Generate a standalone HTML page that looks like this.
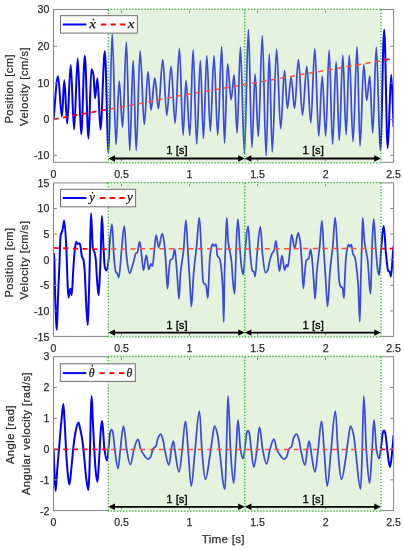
<!DOCTYPE html>
<html><head><meta charset="utf-8"><title>Figure</title>
<style>html,body{margin:0;padding:0;background:#fff}svg{display:block}</style></head>
<body>
<svg width="404" height="550" viewBox="0 0 404 550">
<rect width="404" height="550" fill="#fff"/>
<g font-family="'Liberation Sans', Arial, sans-serif" fill="#2e2e2e" stroke="#2e2e2e" stroke-width="0.25">
<clipPath id="ci0"><rect x="108.4" y="9.5" width="272.5" height="152.8"/></clipPath>
<clipPath id="co0"><rect x="53.5" y="9.5" width="54.9" height="152.8"/><rect x="380.9" y="9.5" width="12.7" height="152.8"/></clipPath>
<g fill="none" stroke-linejoin="round">
<defs><path id="w0" d="M53.6 118.6C55.1 104.5 56.4 76.3 58 76.3C59.4 76.3 60.5 116.5 61.9 116.5C62.8 116.5 63.4 80.2 64.3 80.2C65.3 80.2 66.2 123.6 67.2 123.6C68.5 123.6 69.4 64.9 70.7 64.9C71.9 64.9 72.9 129.5 74.1 129.5C75.4 129.5 76.4 58.5 77.7 58.5C79 58.5 79.9 134.3 81.2 134.3C82.5 134.3 83.5 55.8 84.8 55.8C86.1 55.8 87.2 138.4 88.5 138.4C89.5 138.4 90.4 69.3 91.4 69.3C92 69.3 92.5 70.9 93 72.8C93.2 73.5 93.4 74.9 93.6 76.5C94.1 80.6 94.6 98.3 95.1 98.3C95.9 98.3 96.6 78.2 97.4 78.2C98.5 78.2 99.4 129.5 100.5 129.5C102 129.5 103.3 51.3 104.8 51.3C106.2 51.3 107.2 153 108.6 153C109.9 153 110.9 34.1 112.2 34.1C113.6 34.1 114.6 144.6 116 144.6C117.2 144.6 118 81.2 119.2 81.2C120.4 81.2 121.4 127 122.6 127C124 127 125 42 126.4 42C127.6 42 128.5 150.5 129.7 150.5C131 150.5 131.9 60.5 133.2 60.5C134.3 60.5 135.1 150.5 136.2 150.5C137.6 150.5 138.7 50.8 140.1 50.8C141.6 50.8 142.8 124.4 144.3 124.4C145.6 124.4 146.7 71.5 148 71.5C149.1 71.5 149.9 110 151 110C152.4 110 153.4 78.2 154.8 78.2C156.1 78.2 157.1 108.6 158.4 108.6C160 108.6 161.2 59.7 162.8 59.7C164.2 59.7 165.4 115.2 166.8 115.2C168.3 115.2 169.6 66.3 171.1 66.3C172.5 66.3 173.7 123 175.1 123C176.6 123 177.9 48.3 179.4 48.3C180.7 48.3 181.8 135 183.1 135C184.1 135 185 80.4 186 80.4C187.4 80.4 188.4 135.5 189.8 135.5C191 135.5 191.9 49.9 193.1 49.9C194.4 49.9 195.4 143.9 196.7 143.9C198 143.9 199 60.5 200.3 60.5C201.4 60.5 202.3 138.4 203.4 138.4C204.6 138.4 205.6 55.7 206.8 55.7C208.1 55.7 209 131 210.3 131C211.6 131 212.7 55.7 214 55.7C215.3 55.7 216.4 135 217.7 135C219.1 135 220.3 46.5 221.7 46.5C222.7 46.5 223.5 143.2 224.5 143.2C225.6 143.2 226.5 63.8 227.6 63.8C228.9 63.8 229.8 99.7 231.1 99.7C232.2 99.7 233 74.8 234.1 74.8C235.2 74.8 236 133 237.1 133C238.3 133 239.2 47.2 240.4 47.2C241.8 47.2 243 153.4 244.4 153.4C245.8 153.4 247 29.7 248.4 29.7C249.7 29.7 250.6 147.5 251.9 147.5C253.1 147.5 253.9 74.2 255.1 74.2C256.3 74.2 257.1 136.5 258.3 136.5C259.7 136.5 260.9 35.5 262.3 35.5C263.7 35.5 264.7 155.7 266.1 155.7C267.3 155.7 268.1 53.9 269.3 53.9C270.3 53.9 271.2 151.9 272.2 151.9C273.8 151.9 275 49.2 276.6 49.2C278.1 49.2 279.2 128.6 280.7 128.6C282.1 128.6 283.1 70.5 284.5 70.5C285.5 70.5 286.4 108.3 287.4 108.3C288.7 108.3 289.8 77.7 291.1 77.7C292.4 77.7 293.3 108.3 294.6 108.3C296 108.3 297 59.7 298.4 59.7C299.9 59.7 301 115 302.5 115C304 115 305.3 66.4 306.8 66.4C308.2 66.4 309.4 122.8 310.8 122.8C312.2 122.8 313.4 48.6 314.8 48.6C316.2 48.6 317.3 135.9 318.7 135.9C320 135.9 320.9 76.3 322.2 76.3C323.5 76.3 324.4 135.9 325.7 135.9C326.9 135.9 327.9 50.1 329.1 50.1C330.4 50.1 331.3 144.1 332.6 144.1C333.9 144.1 334.8 61.7 336.1 61.7C337.3 61.7 338.1 140.3 339.3 140.3C340.6 140.3 341.5 55 342.8 55C344 55 344.9 134.5 346.1 134.5C347.3 134.5 348.1 55 349.3 55C350.6 55 351.7 141.7 353 141.7C354.5 141.7 355.6 46.6 357.1 46.6C358.1 46.6 359 146 360 146C361.4 146 362.4 64.6 363.8 64.6C364.8 64.6 365.7 100.4 366.7 100.4C367.8 100.4 368.7 76 369.8 76C370.8 76 371.7 133 372.7 133C374 133 375 47.2 376.3 47.2C377.7 47.2 378.9 150.5 380.3 150.5C381.7 150.5 382.8 29.7 384.2 29.7C385.5 29.7 386.4 148 387.7 148C389 148 389.9 74.8 391.2 74.8C392.1 74.8 392.8 109.6 393.6 127"/></defs>
<use href="#w0" clip-path="url(#co0)" stroke="#0000ff" stroke-width="2"/>
<use href="#w0" clip-path="url(#ci0)" stroke="#0000ff" stroke-width="1.75"/>
<path clip-path="url(#co0)" d="M53.6 119.4L108.3 109.2L120 107.3L179.4 95.8L238.8 85.6L313.5 72.5L383.5 60.3L393.6 58.2" stroke="#ff0000" stroke-width="1.8" stroke-dasharray="5.2 4.4"/>
</g>
<rect x="109.7" y="10.7" width="269.9" height="150.8" fill="rgb(176,220,159)" fill-opacity="0.34" stroke="none"/>
<g fill="none" stroke="#868686" stroke-width="1">
<rect x="53.5" y="9.5" width="340.1" height="152.8"/>
<path d="M121.5 162.3v-3.4M121.5 9.5v3.4M189.5 162.3v-3.4M189.5 9.5v3.4M257.6 162.3v-3.4M257.6 9.5v3.4M325.6 162.3v-3.4M325.6 9.5v3.4M53.5 46.3h3.4M393.6 46.3h-3.4M53.5 83h3.4M393.6 83h-3.4M53.5 119.4h3.4M393.6 119.4h-3.4M53.5 155.3h3.4M393.6 155.3h-3.4"/>
</g>
<path clip-path="url(#ci0)" d="M53.6 119.4L108.3 109.2L120 107.3L179.4 95.8L238.8 85.6L313.5 72.5L383.5 60.3L393.6 58.2" fill="none" stroke="#fb5038" stroke-width="1.5" stroke-dasharray="5.2 4.4"/>
<g fill="none" stroke="#eaf4e5" stroke-width="2.2">
<path d="M108.4 9.4H380.9M108.4 162.4H380.9"/>
</g>
<g fill="none" stroke="#45b845" stroke-width="1.3" stroke-dasharray="1.45 1.6">
<path d="M107.6 9.3H381.7M107.6 162.8H381.7"/>
<path stroke-width="1.4" d="M108.4 9.5V162.3M244.8 9.5V162.3M380.9 9.5V162.3"/>
</g>
<g font-size="10.6">
<text x="49.4" y="13.1" text-anchor="end">30</text>
<text x="49.4" y="50.1" text-anchor="end">20</text>
<text x="49.4" y="86.8" text-anchor="end">10</text>
<text x="49.4" y="123.2" text-anchor="end">0</text>
<text x="49.4" y="159.1" text-anchor="end">-10</text>
<text x="53.5" y="177.7" text-anchor="middle">0</text>
<text x="121.5" y="177.7" text-anchor="middle">0.5</text>
<text x="189.5" y="177.7" text-anchor="middle">1</text>
<text x="257.6" y="177.7" text-anchor="middle">1.5</text>
<text x="325.6" y="177.7" text-anchor="middle">2</text>
<text x="393.6" y="177.7" text-anchor="middle">2.5</text>
</g>
<text font-size="11.2" textLength="69.1" lengthAdjust="spacing" transform="translate(12.9 123.5) rotate(-90)">Position [cm]</text>
<text font-size="11.2" textLength="78.5" lengthAdjust="spacing" transform="translate(27.9 125.9) rotate(-90)">Velocity [cm/s]</text>
<g stroke="#000" stroke-width="1.8" fill="#000">
<path d="M112.4 158.5H240.8" fill="none"/>
<path stroke="none" d="M108.4 158.5l6.6 -3.2v6.4z"/>
<path stroke="none" d="M244.8 158.5l-6.6 -3.2v6.4z"/>
<path d="M248.8 158.5H376.9" fill="none"/>
<path stroke="none" d="M244.8 158.5l6.6 -3.2v6.4z"/>
<path stroke="none" d="M380.9 158.5l-6.6 -3.2v6.4z"/>
</g>
<text font-size="11.3" fill="#000" stroke="#000" stroke-width="0.3" text-anchor="middle" x="176.9" y="154.4">1 [s]</text>
<text font-size="11.3" fill="#000" stroke="#000" stroke-width="0.3" text-anchor="middle" x="313.2" y="154.4">1 [s]</text>
<rect x="60.5" y="15.7" width="76.9" height="17.4" fill="#fff" stroke="#6e6e6e" stroke-width="1"/>
<path d="M62.8 24.5H86.3" stroke="#0000ff" stroke-width="2" fill="none"/>
<path d="M100.9 24.5h24.6" stroke="#ff0000" stroke-width="1.8" stroke-dasharray="5.3 4.35" fill="none"/>
<g font-family="'Liberation Serif', 'DejaVu Serif', serif" font-style="italic" font-size="13" fill="#1a1a1a" stroke="#1a1a1a" stroke-width="0.25">
<text x="89.2" y="27.8" textLength="6.8" lengthAdjust="spacingAndGlyphs">x</text>
<text x="91.4" y="25.6" font-style="normal" font-size="11" stroke-width="0.5">˙</text>
<text x="127.8" y="27.8" textLength="6.8" lengthAdjust="spacingAndGlyphs">x</text>
</g>
<clipPath id="ci1"><rect x="108.4" y="182.9" width="272.5" height="153.5"/></clipPath>
<clipPath id="co1"><rect x="53.5" y="182.9" width="54.9" height="153.5"/><rect x="380.9" y="182.9" width="12.7" height="153.5"/></clipPath>
<g fill="none" stroke-linejoin="round">
<defs><path id="w1" d="M53.6 259C53.8 257.2 54 253.6 54.3 253.6C54.5 253.6 54.7 279.1 54.9 287C55.3 301.5 55.6 312.4 56 319C56.3 323.8 56.5 329.8 56.8 329.8C57.2 329.8 57.5 311.7 57.8 303C58 296.9 58.3 290.4 58.5 285C58.8 278.8 59 274 59.3 268C59.7 258.2 60.2 238.5 60.6 236C61.2 232.3 61.9 232.6 62.5 230C63.1 227.7 63.6 220.4 64.2 220.4C65 220.4 65.7 235 66.4 249C66.7 255.4 67.1 271.8 67.4 279C67.8 287 68.1 297.6 68.5 297.6C69.2 297.6 69.7 288.8 70.4 288.8C70.9 288.8 71.2 294.9 71.7 294.9C72.3 294.9 72.7 278.3 73.2 271C73.7 263.7 74.2 255.2 74.7 251C75.2 246.8 75.6 241.7 76.2 241.7C76.8 241.7 77.2 244.1 77.8 244.1C78.6 244.1 79 243.3 79.8 243.3C80.6 243.3 81.2 254.1 81.9 256.4C82.4 258.1 83 258 83.5 260C83.9 261.5 84.3 265.8 84.7 271C85.1 276.6 85.6 292.5 86 300C86.6 310.4 87.1 325 87.8 325C88.2 325 88.5 306.7 88.9 295C89.2 286.5 89.4 275.3 89.7 265C90.1 248.3 90.5 213.3 91 213.3C91.7 213.3 92.3 246.7 92.9 249C93.4 250.9 94 250.6 94.5 252.3C94.9 253.6 95.4 256.2 95.8 260C96.2 263.5 96.6 274 97 279C97.5 285.7 98 295.2 98.6 295.2C99.1 295.2 99.5 282.5 99.9 274C100.2 268.8 100.4 262.2 100.7 255C101.1 244.1 101.4 216 101.9 216C102.5 216 102.9 236.3 103.4 245C103.9 253.1 104.3 265.2 104.8 267C105.3 269.1 105.8 270.5 106.4 270.5C107.2 270.5 107.9 265.8 108.6 260.5C109.1 257.1 109.5 244.9 110 240C110.7 233 111.2 224 112 224C112.8 224 113.3 249.7 114 257.2C114.5 263.2 115.1 269.7 115.6 271.1C116.2 272.5 116.7 272.5 117.3 273.6C117.8 274.6 118.2 277.6 118.8 277.6C119.8 277.6 120.5 260.4 121.4 252.3C122.4 243.2 123.2 226.1 124.3 226.1C125.2 226.1 125.8 251.2 126.6 257.2C127.6 265 128.5 273.3 129.6 273.3C130.5 273.3 131.2 269.4 132 267C132.7 264.9 133.4 262.3 134.1 259.7C134.6 257.9 135.1 254.7 135.6 253.9C136.2 253 136.7 253.1 137.3 252.3C138.1 251.1 138.8 241.7 139.7 241.7C140.5 241.7 141.1 251.9 141.8 257.2C142.4 261.5 142.9 270.3 143.5 270.3C144.6 270.3 145.2 255.2 146.3 255.2C147.3 255.2 147.9 269.5 148.9 269.5C149.6 269.5 150.1 263.8 150.8 263.8C151.4 263.8 151.9 266.2 152.5 266.2C153.1 266.2 153.6 256.9 154.1 252.3C154.8 246.5 155.3 235.1 156.1 235.1C157.1 235.1 157.7 247.4 158.7 247.4C160 247.4 160.9 233.5 162.2 233.5C163 233.5 163.5 238 164.2 242.5C164.7 246.1 165.3 254.1 165.8 262C166.1 266.9 166.5 275.6 166.8 280C167.1 283.5 167.3 288.5 167.6 288.5C168 288.5 168.3 278.7 168.6 275C169.1 269.1 169.7 261.5 170.2 260.5C171.1 258.9 171.9 259.4 172.8 258C173.4 257 174 249 174.7 249C175.2 249 175.6 256 176 260.5C176.5 265.3 176.9 272.1 177.4 278C177.9 284.8 178.4 298.8 179 298.8C179.6 298.8 180 279.1 180.5 273.6C181.6 261.8 182.6 259.5 183.7 249C184.4 241.8 185.1 220.4 185.9 220.4C186.6 220.4 187.2 239.1 187.8 249C188.5 260.5 189.3 273.4 190 285C190.5 292.4 190.9 306.5 191.4 306.5C192.2 306.5 192.9 282.1 193.6 273.6C194.7 261.3 195.7 254.6 196.8 244.1C197.6 235.9 198.4 217.9 199.3 217.9C200.1 217.9 200.6 237.8 201.3 249C201.9 258.5 202.4 276.3 203 280C203.3 281.8 203.5 283.2 203.8 283.5C204.5 284.4 205.2 284 205.9 284.8C206.6 285.6 207.1 298.1 207.9 298.1C208.2 298.1 208.5 286.1 208.8 280C209.2 272.5 209.5 260.9 209.9 257.2C210.5 251.6 211 248.4 211.6 246.6C212 245.4 212.3 244.1 212.7 244.1C213.3 244.1 213.8 246.1 214.4 246.1C215 246.1 215.4 244.1 216 244.1C216.5 244.1 216.9 254.4 217.4 255.6C218.2 257.6 218.9 257 219.7 258.9C220.2 260.2 220.8 264.1 221.3 268.7C221.8 273 222.3 279.9 222.8 290C223.1 296.7 223.4 322 223.8 322C224.1 322 224.3 284.6 224.5 275C224.9 260 225.2 253 225.6 244C226 234.2 226.3 217.9 226.8 217.9C227.3 217.9 227.7 236.8 228.1 240.8C228.6 245.8 229.2 247.5 229.7 250.7C230.3 254.1 230.8 255.9 231.4 260.5C231.9 264.8 232.5 277 233 282C233.5 287 234 293.6 234.6 293.6C234.9 293.6 235.1 282.4 235.4 275C235.7 266.7 236 250.8 236.3 244.1C236.8 232.3 237.3 219.2 237.9 219.2C238.7 219.2 239.2 240.9 239.9 249C240.6 257.5 241.3 267.1 242 270.3C242.4 272.3 242.8 274.4 243.3 274.4C244.1 274.4 244.6 255.7 245.3 249C246.2 239.6 247 226.1 248.1 226.1C248.9 226.1 249.5 246.9 250.2 253.9C250.9 260.9 251.6 269.7 252.3 270.6C252.9 271.4 253.4 271.1 254 271.9C254.4 272.4 254.7 276.5 255.1 276.5C255.9 276.5 256.5 259 257.2 252.3C258.3 242.1 259.2 226.9 260.4 226.9C261.2 226.9 261.8 247.9 262.5 253.9C263.5 262.5 264.4 272.6 265.5 272.6C266.3 272.6 267 271.6 267.7 270.3C268.4 269.1 269.1 263.1 269.8 260.5C270.7 257.3 271.5 254.2 272.4 252.7C272.9 251.8 273.5 251.7 274 250.7C274.7 249.4 275.2 240.8 276 240.8C276.7 240.8 277.2 252 277.8 257.2C278.4 262.1 278.9 271.1 279.5 271.1C280.4 271.1 281.1 255.6 282 255.6C283 255.6 283.7 270.3 284.7 270.3C285.3 270.3 285.8 264.6 286.4 264.6C286.9 264.6 287.2 266.7 287.7 266.7C288.3 266.7 288.8 261.1 289.3 257.2C290.1 251.6 290.7 234.6 291.6 234.6C292.7 234.6 293.5 248.2 294.6 248.2C296 248.2 296.8 233 298.2 233C299 233 299.6 237.7 300.3 242.5C300.8 246.2 301.4 255.7 301.9 263.8C302.4 270.9 302.8 288.5 303.3 288.5C303.8 288.5 304.2 279.1 304.6 275C305.2 269.7 305.7 261.5 306.3 260.5C307.2 258.9 308.1 259.5 309 258C309.5 257.1 310 249 310.6 249C311.2 249 311.7 255.5 312.2 260.5C312.7 265.1 313.2 273.4 313.7 280C314.2 286.2 314.6 298.8 315.1 298.8C315.7 298.8 316.2 280 316.7 273.6C317.8 260.8 318.8 255.2 319.9 244.1C320.6 237.2 321.1 220.9 321.9 220.9C322.6 220.9 323.1 239.6 323.7 249C324.5 261 325.2 274 326 285C326.5 292.7 327 306.5 327.6 306.5C328.4 306.5 329.1 282.1 329.8 273.6C330.9 261.3 331.9 255.3 333 244.1C333.7 236.4 334.4 217.6 335.2 217.6C336 217.6 336.7 237.5 337.4 249C338 258.9 338.7 278.3 339.3 282C339.7 284.3 340.1 285.8 340.5 286.4C341.2 287.3 341.8 287 342.5 288C343 288.7 343.4 298.1 344 298.1C344.3 298.1 344.5 285.5 344.8 280C345.2 271.7 345.6 261.1 346 257.2C346.6 251.7 347.1 248.5 347.7 246.6C348 245.7 348.2 244.6 348.5 244.6C349.1 244.6 349.4 246.6 350 246.6C350.5 246.6 350.8 244.6 351.3 244.6C351.9 244.6 352.4 252.5 352.9 253.9C353.6 255.6 354.2 255.4 354.9 257.2C355.3 258.4 355.8 262.1 356.2 265.4C356.9 270.4 357.5 275.7 358.2 285C358.7 292.4 359.2 321.8 359.8 321.8C360.2 321.8 360.5 292.2 360.8 280C361.2 266.5 361.5 256.1 361.9 244.1C362.2 235.4 362.4 217.9 362.7 217.9C363.3 217.9 363.8 236 364.4 240.8C364.9 245.3 365.5 247.5 366 250.7C366.6 254.1 367.1 255.8 367.7 260.5C368.2 264.9 368.8 277.3 369.3 283C369.7 287.3 370 293.6 370.5 293.6C370.8 293.6 371 281.1 371.3 273.6C371.6 265.1 371.9 250.9 372.2 244.1C372.7 232.8 373.1 219.2 373.7 219.2C374.5 219.2 375.1 240.5 375.8 249C376.5 257.1 377.1 266.9 377.8 270.3C378.2 272.5 378.6 274.9 379.1 274.9C379.9 274.9 380.4 256 381.1 249C382 239.8 382.7 226.1 383.7 226.1C384.6 226.1 385.2 246.6 386 253.9C386.7 260.6 387.4 269.7 388.1 270.6C388.7 271.4 389.2 271.1 389.8 271.9C390.2 272.4 390.5 276.5 390.9 276.5C391.7 276.5 392.3 259.9 393 252.3C393.2 250.1 393.4 248.1 393.6 246"/></defs>
<use href="#w1" clip-path="url(#co1)" stroke="#0000ff" stroke-width="2"/>
<use href="#w1" clip-path="url(#ci1)" stroke="#0000ff" stroke-width="1.75"/>
<path clip-path="url(#co1)" d="M53.6 247.8L70 248.6L100 249.2L140 248.8L200 248.8L244 249L300 248.6L393.6 248.6" stroke="#ff0000" stroke-width="1.8" stroke-dasharray="5.2 4.4"/>
</g>
<rect x="109.7" y="184.1" width="269.9" height="151.5" fill="rgb(176,220,159)" fill-opacity="0.34" stroke="none"/>
<g fill="none" stroke="#868686" stroke-width="1">
<rect x="53.5" y="182.9" width="340.1" height="153.5"/>
<path d="M121.5 336.4v-3.4M121.5 182.9v3.4M189.5 336.4v-3.4M189.5 182.9v3.4M257.6 336.4v-3.4M257.6 182.9v3.4M325.6 336.4v-3.4M325.6 182.9v3.4M53.5 208.5h3.4M393.6 208.5h-3.4M53.5 234.1h3.4M393.6 234.1h-3.4M53.5 259.7h3.4M393.6 259.7h-3.4M53.5 285.3h3.4M393.6 285.3h-3.4M53.5 310.9h3.4M393.6 310.9h-3.4"/>
</g>
<path clip-path="url(#ci1)" d="M53.6 247.8L70 248.6L100 249.2L140 248.8L200 248.8L244 249L300 248.6L393.6 248.6" fill="none" stroke="#fb5038" stroke-width="1.5" stroke-dasharray="5.2 4.4"/>
<g fill="none" stroke="#eaf4e5" stroke-width="2.2">
<path d="M108.4 182.8H380.9M108.4 336.5H380.9"/>
</g>
<g fill="none" stroke="#45b845" stroke-width="1.3" stroke-dasharray="1.45 1.6">
<path d="M107.6 182.7H381.7M107.6 336.9H381.7"/>
<path stroke-width="1.4" d="M108.4 182.9V336.4M244.8 182.9V336.4M380.9 182.9V336.4"/>
</g>
<g font-size="10.6">
<text x="49.4" y="186.5" text-anchor="end">15</text>
<text x="49.4" y="212.3" text-anchor="end">10</text>
<text x="49.4" y="237.9" text-anchor="end">5</text>
<text x="49.4" y="263.5" text-anchor="end">0</text>
<text x="49.4" y="289.1" text-anchor="end">-5</text>
<text x="49.4" y="314.7" text-anchor="end">-10</text>
<text x="49.4" y="340.8" text-anchor="end">-15</text>
<text x="53.5" y="351.8" text-anchor="middle">0</text>
<text x="121.5" y="351.8" text-anchor="middle">0.5</text>
<text x="189.5" y="351.8" text-anchor="middle">1</text>
<text x="257.6" y="351.8" text-anchor="middle">1.5</text>
<text x="325.6" y="351.8" text-anchor="middle">2</text>
<text x="393.6" y="351.8" text-anchor="middle">2.5</text>
</g>
<text font-size="11.2" textLength="69.8" lengthAdjust="spacing" transform="translate(12.9 297.6) rotate(-90)">Position [cm]</text>
<text font-size="11.2" textLength="78.6" lengthAdjust="spacing" transform="translate(28 299.6) rotate(-90)">Velocity [cm/s]</text>
<g stroke="#000" stroke-width="1.8" fill="#000">
<path d="M112.4 332.6H240.8" fill="none"/>
<path stroke="none" d="M108.4 332.6l6.6 -3.2v6.4z"/>
<path stroke="none" d="M244.8 332.6l-6.6 -3.2v6.4z"/>
<path d="M248.8 332.6H376.9" fill="none"/>
<path stroke="none" d="M244.8 332.6l6.6 -3.2v6.4z"/>
<path stroke="none" d="M380.9 332.6l-6.6 -3.2v6.4z"/>
</g>
<text font-size="11.3" fill="#000" stroke="#000" stroke-width="0.3" text-anchor="middle" x="176.9" y="328.5">1 [s]</text>
<text font-size="11.3" fill="#000" stroke="#000" stroke-width="0.3" text-anchor="middle" x="313.2" y="328.5">1 [s]</text>
<rect x="60.5" y="189.3" width="75.1" height="17.5" fill="#fff" stroke="#6e6e6e" stroke-width="1"/>
<path d="M62.8 198H86.3" stroke="#0000ff" stroke-width="2" fill="none"/>
<path d="M100 198h24.6" stroke="#ff0000" stroke-width="1.8" stroke-dasharray="5.3 4.35" fill="none"/>
<g font-family="'Liberation Serif', 'DejaVu Serif', serif" font-style="italic" font-size="13" fill="#1a1a1a" stroke="#1a1a1a" stroke-width="0.25">
<text x="89.2" y="201.3" textLength="5.7" lengthAdjust="spacingAndGlyphs">y</text>
<text x="90.8" y="199.4" font-style="normal" font-size="11" stroke-width="0.5">˙</text>
<text x="127.1" y="201.3" textLength="5.7" lengthAdjust="spacingAndGlyphs">y</text>
</g>
<clipPath id="ci2"><rect x="108.4" y="356.7" width="272.5" height="153.9"/></clipPath>
<clipPath id="co2"><rect x="53.5" y="356.7" width="54.9" height="153.9"/><rect x="380.9" y="356.7" width="12.7" height="153.9"/></clipPath>
<g fill="none" stroke-linejoin="round">
<defs><path id="w2" d="M53.6 449C53.9 456 54.1 464.3 54.4 470C54.8 478.5 55.1 491 55.6 491C56.2 491 56.7 476.6 57.2 470C57.8 462.6 58.4 456 59 449C59.8 439.3 60.7 428.1 61.5 420C62.1 413.9 62.7 404 63.4 404C63.9 404 64.3 417 64.8 425C65.2 431.9 65.6 442.3 66 449C66.5 458 67.1 466.9 67.6 472C68.2 477.7 68.7 484.6 69.4 484.6C70.2 484.6 70.7 474.2 71.4 468C71.9 463 72.5 455.8 73 451C73.8 443.5 74.7 435.9 75.5 432C76.5 427.5 77.3 422.4 78.4 422.4C79.2 422.4 79.7 427.1 80.4 430C80.9 432.3 81.5 434.7 82 438C82.7 442.2 83.3 448.8 84 455C84.7 461.9 85.5 472.7 86.2 478C86.9 483.3 87.6 490 88.4 490C88.7 490 89 481.8 89.3 475C89.5 469.7 89.8 460.1 90 451C90.3 440.7 90.5 423.3 90.8 415C91.1 406.7 91.3 396 91.6 396C92.1 396 92.4 412.1 92.8 420C93.3 430.5 93.9 442 94.4 451C94.9 458.9 95.3 467.8 95.8 472C96.3 476.7 96.8 482 97.4 482C97.9 482 98.2 473.6 98.6 468C98.9 463.4 99.3 456.7 99.6 451C100 444.1 100.4 434.2 100.8 430C101.2 425.8 101.5 421 102 421C102.5 421 102.8 427.5 103.2 432C103.6 436.5 104 446.1 104.4 449C105.3 455.3 106 460.6 107 460.6C107.8 460.6 108.3 449.7 109 444C109.5 440 109.9 432.8 110.4 431.5C110.8 430.3 111.1 429.4 111.6 429.4C112.1 429.4 112.4 430.5 112.8 431.8C113.1 432.7 113.3 435.8 113.6 438C114.1 441.9 114.5 447.6 115 451C116 458.4 116.9 468.6 118 468.6C118.9 468.6 119.6 455.3 120.4 449C121.4 441.1 122.3 426 123.4 426C124.1 426 124.6 431.8 125.2 436C125.7 439.3 126.1 446.2 126.6 449C127.9 456.7 129 464.6 130.4 464.6C131.8 464.6 132.8 452.7 134 449C135.3 444.9 136.5 439.4 138 439.4C139 439.4 139.7 446.9 140.6 449C141.7 451.7 142.9 453.5 144 455C145.3 456.7 146.5 459 148 459C149 459 149.7 458.1 150.6 457C151.4 456 152.2 450.3 153 449C154 447.4 155 447.7 156 446C156.7 444.9 157.3 439.5 158 438C158.9 436 159.6 434 160.6 434C161.5 434 162.2 437.2 163 440C163.7 442.3 164.3 448.1 165 451C166.3 456.8 167.5 465 169 465C169.9 465 170.6 453 171.4 449C172.1 445.7 172.6 441 173.4 441C174 441 174.5 447.9 175 451C176.3 458.7 177.5 472 179 472C180.2 472 181.1 458.2 182.2 450C183.3 441.6 184.2 421.4 185.5 421.4C186.5 421.4 187.3 440.8 188.2 451C189.2 462.3 190.1 486 191.2 486C192.6 486 193.7 462.6 195 451C196.5 437.6 197.7 411 199.4 411C200.4 411 201.1 441.5 202 451C203.1 463.4 204.1 479.4 205.4 479.4C207.1 479.4 208.5 464.4 210 455C210.7 450.9 211.3 445.2 212 441C212.9 435.5 213.6 426 214.6 426C215.7 426 216.6 430.5 217.6 435C218.3 438 218.9 446 219.6 451C221.4 464.6 222.9 489 225 489C225.5 489 225.9 465.1 226.4 451C226.9 434.9 227.4 396 228 396C229 396 229.7 438.6 230.6 451C231.6 465.3 232.5 483 233.6 483C234.5 483 235.2 462.5 236 451C236.7 441.4 237.2 420 238 420C238.9 420 239.6 444.4 240.4 449C241.3 453.9 242 458.6 243 458.6C243.9 458.6 244.6 449.7 245.4 444C245.9 440.7 246.3 433.7 246.8 432.5C247.2 431.5 247.5 430.6 248 430.6C248.5 430.6 248.8 431.7 249.2 432.8C249.9 434.9 250.7 445.6 251.4 451C252.2 456.9 252.9 467 253.8 467C255 467 255.9 456.4 257 449C257.8 443.2 258.6 427 259.5 427C260.7 427 261.6 443.9 262.6 449C263.9 455.6 265.1 464 266.6 464C267.9 464 268.9 452.6 270 449C271.3 444.7 272.5 439 274 439C275 439 275.7 446.9 276.6 449C277.7 451.8 278.9 453.5 280 455C281.3 456.7 282.5 459 284 459C285 459 285.7 458.1 286.6 457C287.4 456 288.2 450.2 289 449C289.9 447.7 290.7 448 291.6 446.6C292.3 445.6 292.9 439.4 293.6 438C294.6 435.9 295.5 434 296.6 434C297.5 434 298.2 437.2 299 440C299.7 442.3 300.3 448.1 301 451C302.3 456.8 303.5 465 305 465C305.9 465 306.6 453.2 307.4 449C308 445.8 308.5 441 309.2 441C309.9 441 310.4 447.7 311 451C312.3 458.2 313.5 472 315 472C316.1 472 317 458.5 318 451C319.2 441.9 320.2 421.4 321.6 421.4C322.6 421.4 323.3 441 324.2 451C325.2 462.5 326.1 486 327.2 486C328.6 486 329.7 462.6 331 451C332.5 437.6 333.7 411 335.4 411C336.4 411 337.1 441.5 338 451C339.1 463.4 340.1 479.4 341.4 479.4C343 479.4 344.2 467.4 345.6 459C346.4 454.2 347.2 446.2 348 441C348.9 435.3 349.6 426 350.6 426C351.7 426 352.6 430.5 353.6 435C354.3 438 354.9 445.8 355.6 451C357.3 464 358.7 489 360.6 489C361.2 489 361.7 466 362.2 451C362.7 436 363.2 396 363.8 396C364.8 396 365.5 439.1 366.4 451C367.5 465.7 368.4 483 369.6 483C370.5 483 371.2 462.5 372 451C372.7 441.4 373.2 420 374 420C374.9 420 375.6 444.4 376.4 449C377.3 453.9 378 458.6 379 458.6C379.9 458.6 380.6 449.7 381.4 444C381.9 440.7 382.3 433.7 382.8 432.5C383.2 431.5 383.5 430.6 384 430.6C384.5 430.6 384.8 431.7 385.2 432.8C385.9 434.9 386.7 445.8 387.4 451C388.3 457.1 389 467 390 467C390.9 467 391.6 456.5 392.4 449C392.8 445.3 393.2 439.7 393.6 435"/></defs>
<use href="#w2" clip-path="url(#co2)" stroke="#0000ff" stroke-width="2"/>
<use href="#w2" clip-path="url(#ci2)" stroke="#0000ff" stroke-width="1.75"/>
<path clip-path="url(#co2)" d="M53.6 449.4L393.6 449.4" stroke="#ff0000" stroke-width="1.8" stroke-dasharray="5.2 4.4"/>
</g>
<rect x="109.7" y="357.9" width="269.9" height="151.9" fill="rgb(176,220,159)" fill-opacity="0.34" stroke="none"/>
<g fill="none" stroke="#868686" stroke-width="1">
<rect x="53.5" y="356.7" width="340.1" height="153.9"/>
<path d="M121.5 510.6v-3.4M121.5 356.7v3.4M189.5 510.6v-3.4M189.5 356.7v3.4M257.6 510.6v-3.4M257.6 356.7v3.4M325.6 510.6v-3.4M325.6 356.7v3.4M53.5 387.5h3.4M393.6 387.5h-3.4M53.5 418.3h3.4M393.6 418.3h-3.4M53.5 449.1h3.4M393.6 449.1h-3.4M53.5 479.8h3.4M393.6 479.8h-3.4"/>
</g>
<path clip-path="url(#ci2)" d="M53.6 449.4L393.6 449.4" fill="none" stroke="#fb5038" stroke-width="1.5" stroke-dasharray="5.2 4.4"/>
<g fill="none" stroke="#eaf4e5" stroke-width="2.2">
<path d="M108.4 356.6H380.9M108.4 510.7H380.9"/>
</g>
<g fill="none" stroke="#45b845" stroke-width="1.3" stroke-dasharray="1.45 1.6">
<path d="M107.6 356.5H381.7M107.6 511.1H381.7"/>
<path stroke-width="1.4" d="M108.4 356.7V510.6M244.8 356.7V510.6M380.9 356.7V510.6"/>
</g>
<g font-size="10.6">
<text x="49.4" y="360.3" text-anchor="end">3</text>
<text x="49.4" y="391.3" text-anchor="end">2</text>
<text x="49.4" y="422.1" text-anchor="end">1</text>
<text x="49.4" y="452.9" text-anchor="end">0</text>
<text x="49.4" y="483.6" text-anchor="end">-1</text>
<text x="49.4" y="515" text-anchor="end">-2</text>
<text x="53.5" y="526" text-anchor="middle">0</text>
<text x="121.5" y="526" text-anchor="middle">0.5</text>
<text x="189.5" y="526" text-anchor="middle">1</text>
<text x="257.6" y="526" text-anchor="middle">1.5</text>
<text x="325.6" y="526" text-anchor="middle">2</text>
<text x="393.6" y="526" text-anchor="middle">2.5</text>
</g>
<text font-size="11.2" textLength="58.7" lengthAdjust="spacing" transform="translate(13.7 464.1) rotate(-90)">Angle [rad]</text>
<text font-size="11.2" textLength="122.8" lengthAdjust="spacing" transform="translate(30.2 495.1) rotate(-90)">Angular velocity [rad/s]</text>
<g stroke="#000" stroke-width="1.8" fill="#000">
<path d="M112.4 506.8H240.8" fill="none"/>
<path stroke="none" d="M108.4 506.8l6.6 -3.2v6.4z"/>
<path stroke="none" d="M244.8 506.8l-6.6 -3.2v6.4z"/>
<path d="M248.8 506.8H376.9" fill="none"/>
<path stroke="none" d="M244.8 506.8l6.6 -3.2v6.4z"/>
<path stroke="none" d="M380.9 506.8l-6.6 -3.2v6.4z"/>
</g>
<text font-size="11.3" fill="#000" stroke="#000" stroke-width="0.3" text-anchor="middle" x="176.9" y="502.7">1 [s]</text>
<text font-size="11.3" fill="#000" stroke="#000" stroke-width="0.3" text-anchor="middle" x="313.2" y="502.7">1 [s]</text>
<rect x="60.3" y="363.8" width="75" height="17.6" fill="#fff" stroke="#6e6e6e" stroke-width="1"/>
<path d="M62.8 373.1H86.3" stroke="#0000ff" stroke-width="2" fill="none"/>
<path d="M99.6 373.1h24.6" stroke="#ff0000" stroke-width="1.8" stroke-dasharray="5.3 4.35" fill="none"/>
<g font-family="'Liberation Serif', 'DejaVu Serif', serif" font-style="italic" font-size="12.5" fill="#1a1a1a" stroke="#1a1a1a" stroke-width="0.25">
<text x="88.8" y="376.7" textLength="5.8" lengthAdjust="spacingAndGlyphs">θ</text>
<text x="90.5" y="372" font-style="normal" font-size="11" stroke-width="0.5">˙</text>
<text x="126.4" y="376.7" textLength="5.8" lengthAdjust="spacingAndGlyphs">θ</text>
</g>
<text font-size="11.7" textLength="42.8" lengthAdjust="spacing" x="201.8" y="542.7">Time [s]</text>
</g></svg>
</body></html>
